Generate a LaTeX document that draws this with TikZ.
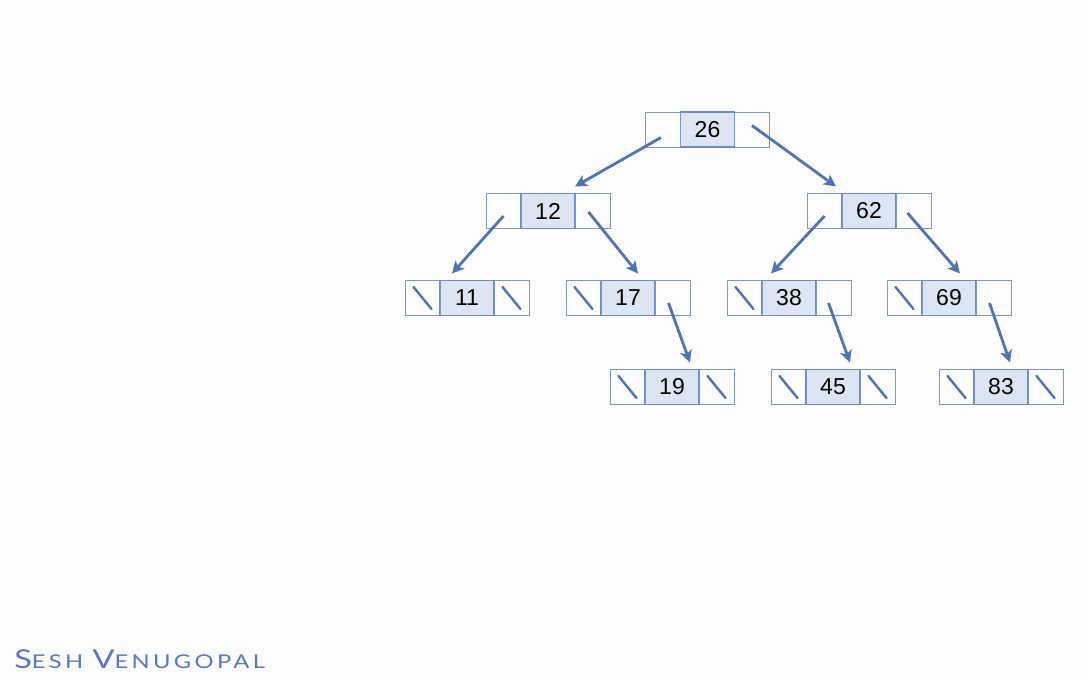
\documentclass[tikz,border=0pt]{standalone}
\usepackage{fontspec}
\setmainfont{Liberation Sans}
\newfontfamily\sigfont[LetterSpace=14]{Lato}
\usetikzlibrary{arrows.meta,calc}
\definecolor{boxc}{HTML}{7B96C8}
\definecolor{midc}{HTML}{6E8BC0}
\definecolor{midfill}{HTML}{DCE5F3}
\definecolor{arrc}{HTML}{4F74AF}
\definecolor{sigc}{HTML}{5878BC}
\definecolor{bgc}{HTML}{FDFDFD}
\newcommand\bnode[4]{%
  \node[mc] (#1-m) at (#2,#3) {\raisebox{-1.5pt}{#4}};
  \node[lc, anchor=east] (#1-l) at (#1-m.west) {};
  \node[lc, anchor=west] (#1-r) at (#1-m.east) {};
}
\newcommand\nullL[1]{\draw[nullp] ([shift={(-9,-11)}]#1-l.center) -- ([shift={(9,11)}]#1-l.center);}
\newcommand\nullR[1]{\draw[nullp] ([shift={(-9,-11)}]#1-r.center) -- ([shift={(9,11)}]#1-r.center);}
\begin{document}
\begin{tikzpicture}[x=1pt,y=-1pt,
  cell/.style={draw=boxc, line width=0.9pt, minimum height=35pt, inner sep=0pt, outer sep=0pt},
  lc/.style={cell, minimum width=35pt},
  mc/.style={cell, minimum width=54pt, fill=midfill, draw=midc, line width=1.1pt, font=\fontsize{23}{26}\selectfont},
  ptr/.style={-{Stealth[length=12pt,width=12pt,inset=3pt]}, line width=2.8pt, draw=arrc},
  nullp/.style={line width=2.4pt, draw=arrc, line cap=round}]
\fill[bgc] (0,0) rectangle (1088,680);
\useasboundingbox (0,0) rectangle (1088,680);
\bnode{n26}{707.5}{129.5}{26}
\bnode{n12}{548}{211}{12}
\bnode{n62}{869}{211}{62}
\bnode{n11}{467}{298}{11}
\bnode{n17}{628}{298}{17}
\bnode{n38}{789}{298}{38}
\bnode{n69}{949}{298}{69}
\bnode{n19}{672}{387}{19}
\bnode{n45}{833}{387}{45}
\bnode{n83}{1001}{387}{83}
% null pointers
\nullL{n11}\nullR{n11}
\nullL{n17}
\nullL{n38}
\nullL{n69}
\nullL{n19}\nullR{n19}
\nullL{n45}\nullR{n45}
\nullL{n83}\nullR{n83}
% pointers
\draw[ptr] ([shift={(-2,8)}]n26-l.center) -- ([shift={(0,-7)}]n12-m.north east);
\draw[ptr] ([shift={(0,-4)}]n26-r.center) -- ([shift={(-6,-7)}]n62-m.north west);
\draw[ptr] ([shift={(0,5)}]n12-l.center) -- ([shift={(12,-7)}]n11-m.north west);
\draw[ptr] ([shift={(-4,1)}]n12-r.center) -- ([shift={(-17,-7)}]n17-m.north east);
\draw[ptr] ([shift={(0,5)}]n62-l.center) -- ([shift={(9,-7)}]n38-m.north west);
\draw[ptr] ([shift={(-6,2)}]n62-r.center) -- ([shift={(-16,-7)}]n69-m.north east);
\draw[ptr] ([shift={(-4,5)}]n17-r.center) -- ([shift={(-9,-7)}]n19-m.north east);
\draw[ptr] ([shift={(-5,5)}]n38-r.center) -- ([shift={(-10,-7)}]n45-m.north east);
\draw[ptr] ([shift={(-4,5)}]n69-r.center) -- ([shift={(-18,-7)}]n83-m.north east);
% signature
\node[anchor=base west, inner sep=0pt, text=sigc, xscale=1.25] (sig) at (14,668) {\sigfont\fontsize{26}{30}\selectfont S\fontsize{19}{22}\selectfont ESH \fontsize{26}{30}\selectfont V\fontsize{19}{22}\selectfont ENUGOPAL};
\end{tikzpicture}
\end{document}
